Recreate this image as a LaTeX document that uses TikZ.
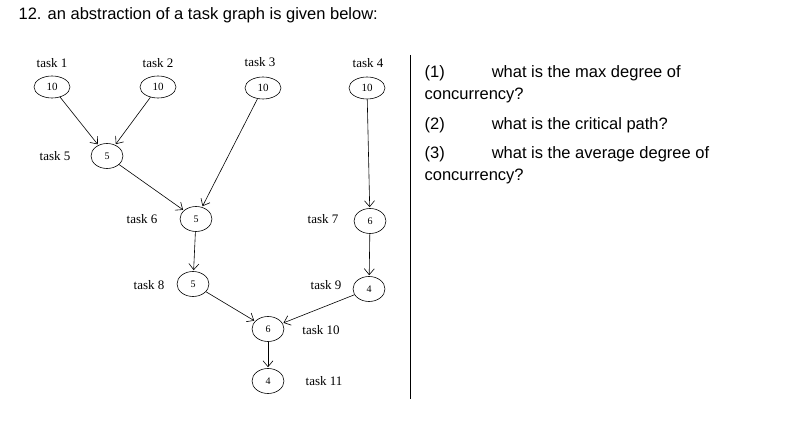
\documentclass[tikz,border=0pt]{standalone}
\usepackage{fontspec}
\setmainfont{Liberation Serif}
\newfontfamily\qfont{Liberation Sans}
\usetikzlibrary{arrows.meta,shapes.geometric}
\begin{document}
\begin{tikzpicture}[x=1pt,y=-1pt,->,>={Straight Barb[length=6pt,width=10pt]},shorten >=1pt,semithick,
  main node/.style={ellipse,draw,minimum width=36pt,minimum height=22pt,inner sep=0pt,font=\fontsize{11}{12}\selectfont},
  small node/.style={ellipse,draw,minimum width=32pt,minimum height=25pt,inner sep=0pt,font=\fontsize{10}{11}\selectfont},
  task label/.style={font=\fontsize{13}{14}\selectfont},
  question/.style={font=\qfont\fontsize{16.5}{18}\selectfont,anchor=west}]
				\useasboundingbox (0,0) rectangle (788,435);

				\node[font=\qfont\fontsize{16.5}{18}\selectfont,anchor=west] (title) at (15,15) {12. an abstraction of a task graph is given below:};

				\node[main node] (A) at (52,87) {10};
				\node[main node] (B) at (158,87) {10};
				\node[main node] (C) at (263,88) {10};
				\node[main node] (D) at (367,88) {10};
				\node[small node] (E) at (107,156) {5};
				\node[small node] (F) at (196,219) {5};
				\node[small node] (G) at (370,221) {6};
				\node[small node] (H) at (193,284) {5};
				\node[small node] (I) at (369,289) {4};
				\node[small node] (J) at (268,329) {6};
				\node[small node] (K) at (268,381) {4};

				\node[task label] (la) at (52,63) {task 1};
				\node[task label] (lb) at (158,63) {task 2};
				\node[task label] (lc) at (260,62) {task 3};
				\node[task label] (ld) at (368,63) {task 4};
				\node[task label] (le) at (55,156) {task 5};
				\node[task label] (lf) at (142,219) {task 6};
				\node[task label] (lg) at (323,219) {task 7};
				\node[task label] (lh) at (149,285) {task 8};
				\node[task label] (li) at (326,285) {task 9};
				\node[task label] (lj) at (321,330) {task 10};
				\node[task label] (lk) at (324,381) {task 11};

				\path
				(A) edge (E)
				(B) edge (E)
				(E) edge (F)
				(C) edge (F)
				(D) edge (G)
				(F) edge (H)
				(G) edge (I)
				(H) edge (J)
				(I) edge (J)
				(J) edge (K);

				\coordinate (top) at (410,55);
				\coordinate (bot) at (410,400);
				\draw[-] (top) -- (bot);

				\node[question] (q1) at (421,73) {(1)\hspace{47pt}what is the max degree of};
				\node[question] (q1b) at (421,95) {concurrency?};
				\node[question] (q2) at (421,125) {(2)\hspace{47pt}what is the critical path?};
				\node[question] (q3) at (421,154) {(3)\hspace{47pt}what is the average degree of};
				\node[question] (q3b) at (421,176) {concurrency?};
\end{tikzpicture}
\end{document}
